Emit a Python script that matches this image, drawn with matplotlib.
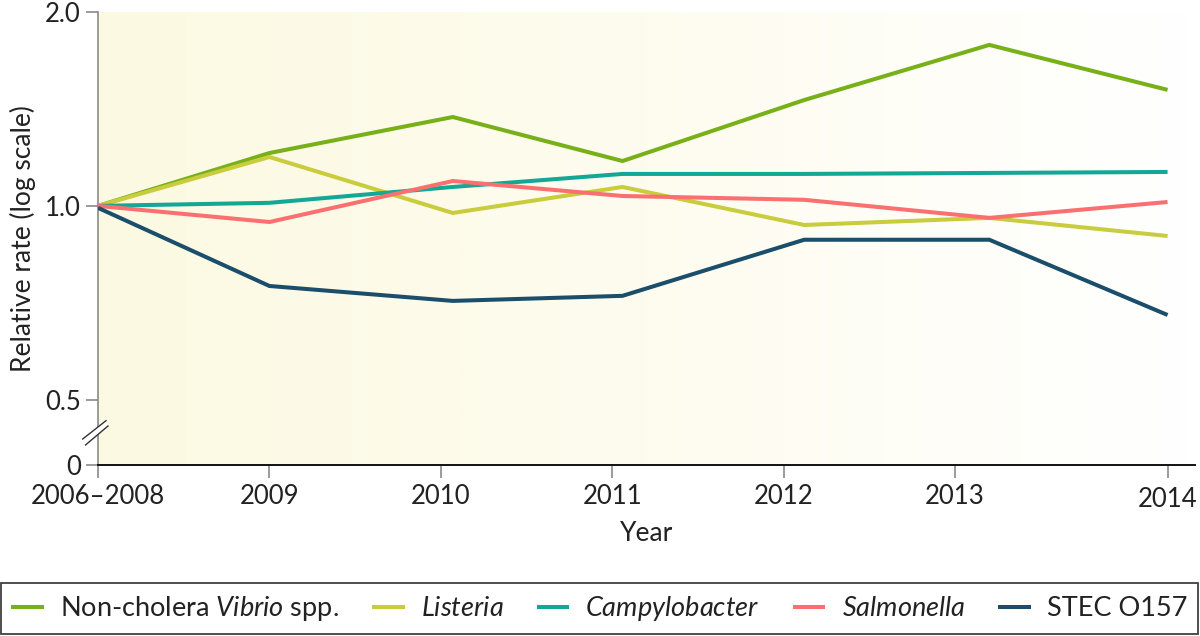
import numpy as np
import matplotlib
matplotlib.use("Agg")
import matplotlib.pyplot as plt
from matplotlib.lines import Line2D
from matplotlib.patches import Polygon
from matplotlib.ticker import NullLocator
from matplotlib.colors import LinearSegmentedColormap

plt.rcParams['font.family'] = ['Lato', 'DejaVu Sans']
plt.rcParams['mathtext.fontset'] = 'custom'
plt.rcParams['mathtext.rm'] = 'Lato'
plt.rcParams['mathtext.it'] = 'Lato:italic'

# positions of the periods along the axis (data points sit slightly off the ticks)
years = ['2006–2008', '2009', '2010', '2011', '2012', '2013', '2014']
tick_pos = [0, 1, 2, 3, 4, 5, 6.24]
point_pos = [0, 1, 2.07, 3.06, 4.12, 5.2, 6.24]

vibrio = [1.0, 1.208, 1.374, 1.174, 1.46, 1.778, 1.514]
listeria = [1.0, 1.191, 0.975, 1.07, 0.934, 0.958, 0.898]
campylobacter = [1.0, 1.011, 1.07, 1.121, 1.121, 1.125, 1.129]
salmonella = [1.0, 0.944, 1.093, 1.036, 1.022, 0.958, 1.014]
stec = [0.993, 0.751, 0.712, 0.725, 0.886, 0.886, 0.677]

series = [
    (r'Non-cholera $\it{Vibrio}$ spp.', vibrio, '#78b01a'),
    (r'$\it{Listeria}$', listeria, '#c9cc3c'),
    (r'$\it{Campylobacter}$', campylobacter, '#13a896'),
    (r'$\it{Salmonella}$', salmonella, '#fa7070'),
    ('STEC O157', stec, '#1a4e6b'),
]

y_bottom = 0.396
y_top = 2.0
x_right = 6.4

fig = plt.figure(figsize=(12, 6.36), dpi=100)
ax = fig.add_axes([98 / 1200, 1 - 465 / 636, 1097 / 1200, 453 / 636])

# pale yellow to white background
grad = np.linspace(0, 1, 256).reshape(1, -1)
bg = LinearSegmentedColormap.from_list('bg', ['#fcf9e2', '#fefcef', '#ffffff'])
ax.imshow(grad, cmap=bg, aspect='auto', extent=[0, x_right, y_bottom, y_top],
          zorder=0, interpolation='bicubic')

for name, vals, col in series:
    ax.plot(point_pos, vals, color=col, lw=2.9, label=name, zorder=3,
            solid_joinstyle='miter', solid_capstyle='butt')

ax.set_yscale('log', base=2)
ax.set_ylim(y_bottom, y_top)
ax.set_xlim(0, x_right)
ax.set_yticks([y_bottom, 0.5, 1.0, 2.0])
ax.set_yticklabels(['0', '0.5', '1.0', '2.0'])
ax.yaxis.set_minor_locator(NullLocator())
ax.set_xticks(tick_pos)
ax.set_xticklabels(years)

for s in ['top', 'right']:
    ax.spines[s].set_visible(False)
ax.spines['left'].set_color('#8a8a8a')
ax.spines['left'].set_linewidth(1.2)
ax.spines['bottom'].set_color('#111111')
ax.spines['bottom'].set_linewidth(1.4)
ax.tick_params(axis='both', direction='out', length=9, width=1.2,
               color='#8a8a8a', labelsize=18.5, labelcolor='#222222')
ax.tick_params(axis='x', pad=5)
ax.xaxis.get_major_ticks()[-1].set_pad(7)

ax.set_ylabel('Relative rate (log scale)', fontsize=19, color='#222222', labelpad=6)
ax.set_xlabel('Year', fontsize=19, color='#222222', labelpad=6)

# axis break marks on the y axis
tr = fig.dpi_scale_trans
def px(x, y):
    return (x / 100, (636 - y) / 100)
gap = Polygon([px(82.7, 439), px(106, 420.7), px(108, 426), px(85.5, 445)],
              closed=True, transform=tr, facecolor='white', edgecolor='none', zorder=5)
fig.add_artist(gap)
for (x0, y0), (x1, y1) in [((82.7, 439), (106, 420.7)), ((85.5, 445), (108, 426))]:
    p0 = px(x0, y0)
    p1 = px(x1, y1)
    fig.add_artist(Line2D([p0[0], p1[0]], [p0[1], p1[1]], transform=tr,
                          color='#333333', lw=1.0, zorder=6))

leg = fig.legend(loc='lower left', bbox_to_anchor=(0.0005, 0.003, 0.998, 0.104),
                 mode='expand', ncol=5, fontsize=19.5, frameon=True, fancybox=False,
                 handlelength=1.2, handletextpad=0.6, borderaxespad=0)
leg.get_frame().set_edgecolor('#111111')
leg.get_frame().set_linewidth(1.3)
for t in leg.get_texts():
    t.set_color('#222222')

fig.savefig('out.png', dpi=100)
